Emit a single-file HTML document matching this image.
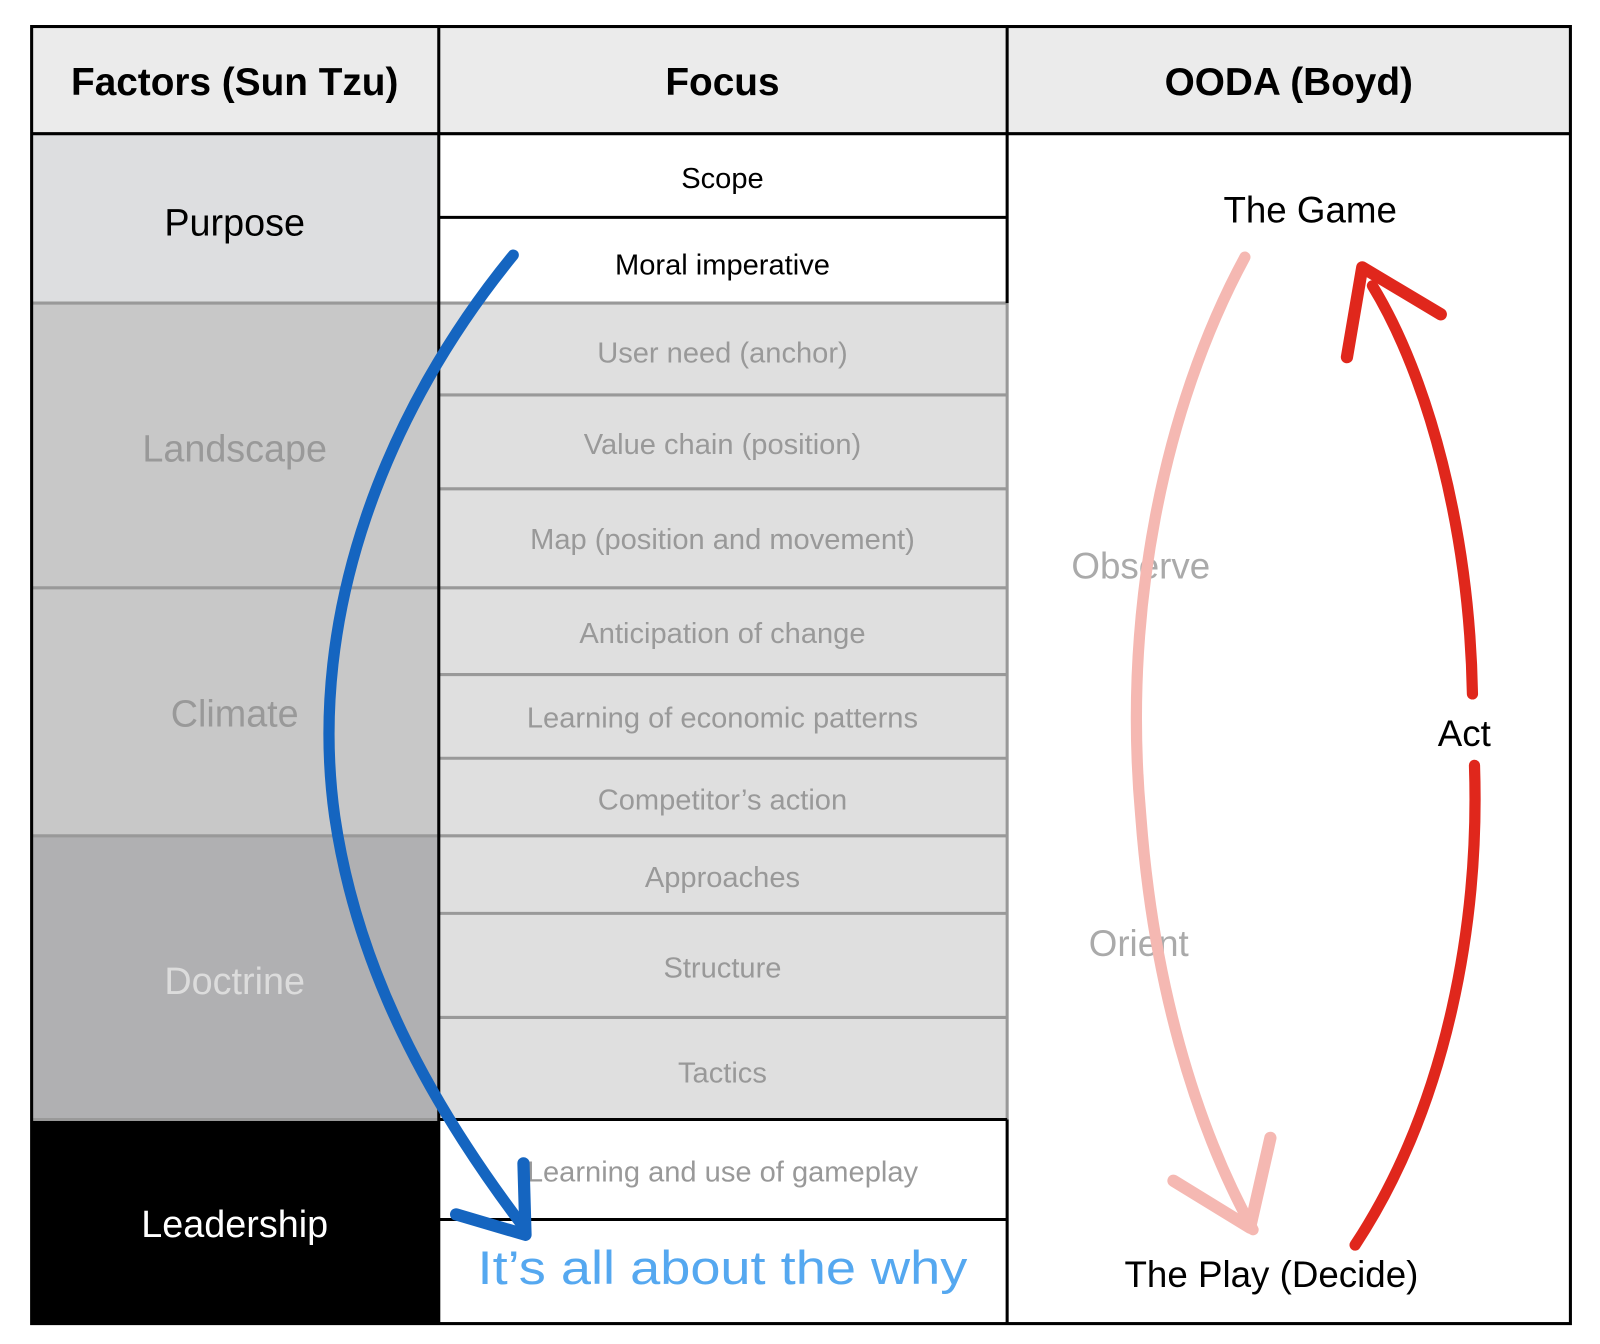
<!DOCTYPE html>
<html><head><meta charset="utf-8"><style>
html,body{margin:0;padding:0;background:#fff}
svg{display:block}
text{font-family:"Liberation Sans",sans-serif}
</style></head><body>
<svg width="1600" height="1344" viewBox="0 0 1568 1317" preserveAspectRatio="none" xmlns="http://www.w3.org/2000/svg">
<rect x="31" y="26" width="1508" height="105" fill="#ebebeb"/>
<rect x="31" y="131" width="399" height="166" fill="#dddee0"/>
<rect x="31" y="297" width="399" height="522" fill="#c8c8c8"/>
<rect x="31" y="819" width="399" height="278" fill="#b0b0b2"/>
<rect x="31" y="1097" width="399" height="200" fill="#000"/>
<rect x="430" y="297" width="557" height="800" fill="#dfdfdf"/>
<g stroke="#999" stroke-width="3">
<line x1="430" y1="387" x2="987" y2="387"/><line x1="430" y1="479" x2="987" y2="479"/>
<line x1="430" y1="576" x2="987" y2="576"/><line x1="430" y1="661" x2="987" y2="661"/>
<line x1="430" y1="743" x2="987" y2="743"/><line x1="430" y1="819" x2="987" y2="819"/>
<line x1="430" y1="895" x2="987" y2="895"/><line x1="430" y1="997" x2="987" y2="997"/>
<line x1="31" y1="576" x2="430" y2="576"/><line x1="31" y1="819" x2="430" y2="819"/>
<line x1="31" y1="297" x2="987" y2="297"/><line x1="31" y1="1097" x2="987" y2="1097"/>
<line x1="987" y1="297" x2="987" y2="1097"/>
</g>
<g stroke="#000" stroke-width="3" fill="none">
<rect x="31" y="26" width="1508" height="1271"/>
<line x1="31" y1="131" x2="1539" y2="131"/>
<line x1="430" y1="26" x2="430" y2="1297"/>
<line x1="987" y1="26" x2="987" y2="297"/>
<line x1="987" y1="1097" x2="987" y2="1297"/>
<line x1="430" y1="213" x2="987" y2="213"/>
<line x1="430" y1="1097" x2="987" y2="1097"/>
<line x1="430" y1="1195" x2="987" y2="1195"/>
</g>
<g font-weight="600" font-size="38" text-anchor="middle" fill="#000">
<text x="230" y="93">Factors (Sun Tzu)</text>
<text x="708" y="93">Focus</text>
<text x="1263" y="93">OODA (Boyd)</text>
</g>
<g font-size="37" text-anchor="middle">
<text x="230" y="231" fill="#000">Purpose</text>
<text x="230" y="452" fill="#999">Landscape</text>
<text x="230" y="712" fill="#999">Climate</text>
<text x="230" y="974" fill="#dcdcdc">Doctrine</text>
<text x="230" y="1212" fill="#fff">Leadership</text>
</g>
<g font-size="28.5" text-anchor="middle" fill="#999">
<text x="708" y="184" fill="#000">Scope</text>
<text x="708" y="269" fill="#000">Moral imperative</text>
<text x="708" y="355">User need (anchor)</text>
<text x="708" y="445">Value chain (position)</text>
<text x="708" y="538">Map (position and movement)</text>
<text x="708" y="630">Anticipation of change</text>
<text x="708" y="713">Learning of economic patterns</text>
<text x="708" y="793">Competitor’s action</text>
<text x="708" y="869">Approaches</text>
<text x="708" y="958">Structure</text>
<text x="708" y="1061">Tactics</text>
<text x="708" y="1158">Learning and use of gameplay</text>
</g>
<text x="468" y="1258" font-size="46" textLength="480" lengthAdjust="spacingAndGlyphs" fill="#55a8f0" font-family="'DejaVu Sans',sans-serif">It’s all about the why</text>
<g font-size="36" fill="#000">
<text x="1284" y="218" text-anchor="middle">The Game</text>
<text x="1246" y="1261" text-anchor="middle">The Play (Decide)</text>
<text x="1435" y="731" text-anchor="middle">Act</text>
</g>
<g font-size="36" fill="#aaa">
<text x="1050" y="567">Observe</text>
<text x="1067" y="937">Orient</text>
</g>
<g fill="none" stroke-linecap="round" stroke-linejoin="round">
<path d="M503 250 C 380 400, 300 600, 328 800 C 350 950, 420 1080, 515 1205" stroke="#1565c0" stroke-width="11"/>
<path d="M447 1190 L515 1210 L513 1140" stroke="#1565c0" stroke-width="12"/>
<path d="M1220 252 C 1140 400, 1100 600, 1118 800 C 1130 960, 1170 1100, 1228 1205" stroke="#f5b8b2" stroke-width="11"/>
<path d="M1150 1157 L1225 1203 L1245 1115" stroke="#f5b8b2" stroke-width="12"/>
<path d="M1328 1220 C 1420 1080, 1450 900, 1445 750" stroke="#e0271c" stroke-width="11"/>
<path d="M1443 680 C 1440 520, 1400 370, 1345 280" stroke="#e0271c" stroke-width="11"/>
<path d="M1320 350 L1335 262 L1412 308" stroke="#e0271c" stroke-width="12"/>
</g>
</svg>
</body></html>
